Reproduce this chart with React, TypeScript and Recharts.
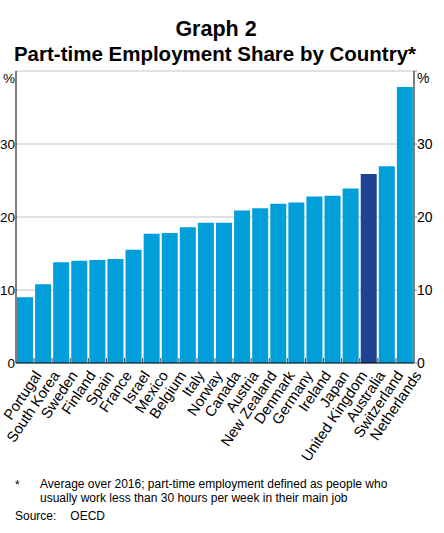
import { ComposedChart, Bar, Line, Cell, XAxis, YAxis, CartesianGrid } from 'recharts';

const countries = [
  'Portugal', 'South Korea', 'Sweden', 'Finland', 'Spain', 'France', 'Israel', 'Mexico',
  'Belgium', 'Italy', 'Norway', 'Canada', 'Austria', 'New Zealand', 'Denmark', 'Germany',
  'Ireland', 'Japan', 'United Kingdom', 'Australia', 'Switzerland', 'Netherlands',
];
const shares = [
  9.0, 10.8, 13.8, 14.0, 14.1, 14.25, 15.5, 17.7,
  17.8, 18.6, 19.2, 19.2, 20.9, 21.2, 21.8, 22.0,
  22.8, 22.9, 23.9, 25.9, 26.95, 37.8,
];
const yTicks = [0, 10, 20, 30, 40];
const highlight = 'Australia';

const data = countries.map((name, i) => ({ name, value: shares[i] }));

const FONT = 'Arial, "Liberation Sans", sans-serif';
const WIDTH = 444;
const LEFT_W = 16;
const RIGHT_W = 30;
const STEP = (WIDTH - LEFT_W - RIGHT_W) / countries.length;

function YTick({ x, y, payload, anchor, size }: any) {
  const isTop = payload.value === 40;
  return (
    <text x={x} y={isTop ? y + 7 : y} dy="0.36em" textAnchor={anchor} fontSize={size} fill="#000" fontFamily={FONT}>
      {isTop ? '%' : payload.value}
    </text>
  );
}

// category label plus the small inward tick at the left edge of each bar slot
function XTick({ x, y, payload, index }: any) {
  const bx = x - STEP / 2;
  const axisY = y - 8;
  return (
    <g>
      {index > 0 && <line x1={bx} x2={bx} y1={axisY} y2={axisY - 5} stroke="#444" />}
      <g transform={`translate(${x + 8.5},${y - 1.5}) rotate(-56)`}>
        <text x={0} y={0} dy="0.7em" textAnchor="end" fontSize={14.8} fill="#000" fontFamily={FONT}>
          {payload.value}
        </text>
      </g>
    </g>
  );
}

export default function App() {
  return (
    <div style={{ position: 'absolute', left: 0, top: 0, width: 444, height: 533, background: '#fff', fontFamily: FONT }}>
      <div style={{ position: 'absolute', top: 17, width: 432, textAlign: 'center', fontWeight: 'bold', fontSize: 21.5 }}>
        Graph 2
      </div>
      <div style={{ position: 'absolute', top: 42, width: 430, textAlign: 'center', fontWeight: 'bold', fontSize: 20.5 }}>
        Part-time Employment Share by Country*
      </div>
      <ComposedChart
        width={WIDTH}
        height={533}
        data={data}
        margin={{ top: 71, right: 0, bottom: 70, left: 0 }}
        barCategoryGap={1}
      >
        <CartesianGrid yAxisId="left" vertical={false} stroke="#c4c4c4" strokeWidth={1} />
        <XAxis
          dataKey="name"
          xAxisId="main"
          interval={0}
          height={100}
          tickSize={6}
          tickMargin={2}
          tickLine={false}
          axisLine={{ stroke: '#000' }}
          tick={<XTick />}
        />
        <XAxis
          xAxisId="top"
          dataKey="name"
          orientation="top"
          height={0}
          tick={false}
          tickLine={false}
          axisLine={{ stroke: '#000' }}
        />
        <YAxis
          yAxisId="left"
          width={LEFT_W}
          domain={[0, 40]}
          ticks={yTicks}
          tickSize={1}
          tickMargin={0}
          axisLine={{ stroke: '#000' }}
          tickLine={false}
          tick={<YTick anchor="end" size={13.5} />}
        />
        <YAxis
          yAxisId="right"
          orientation="right"
          width={RIGHT_W}
          domain={[0, 40]}
          ticks={yTicks}
          tickSize={3}
          tickMargin={0}
          axisLine={{ stroke: '#000' }}
          tickLine={{ stroke: '#888' }}
          tick={<YTick anchor="start" size={14} />}
        />
        <Bar dataKey="value" xAxisId="main" yAxisId="left" isAnimationActive={false}>
          {data.map((d) => (
            <Cell key={d.name} fill={d.name === highlight ? '#1E4395' : '#009FDA'} />
          ))}
        </Bar>
        {/* invisible series so the right-hand and top axes are drawn */}
        <Line dataKey="value" xAxisId="top" yAxisId="right" stroke="none" dot={false} activeDot={false} isAnimationActive={false} />
      </ComposedChart>
      <div style={{ position: 'absolute', left: 15, top: 478, fontSize: 12 }}>*</div>
      <div style={{ position: 'absolute', left: 40, top: 477, fontSize: 12, lineHeight: '14px' }}>
        Average over 2016; part-time employment defined as people who
        <br />
        usually work less than 30 hours per week in their main job
      </div>
      <div style={{ position: 'absolute', left: 15, top: 509, fontSize: 12 }}>
        Source:<span style={{ marginLeft: 14 }}>OECD</span>
      </div>
    </div>
  );
}
